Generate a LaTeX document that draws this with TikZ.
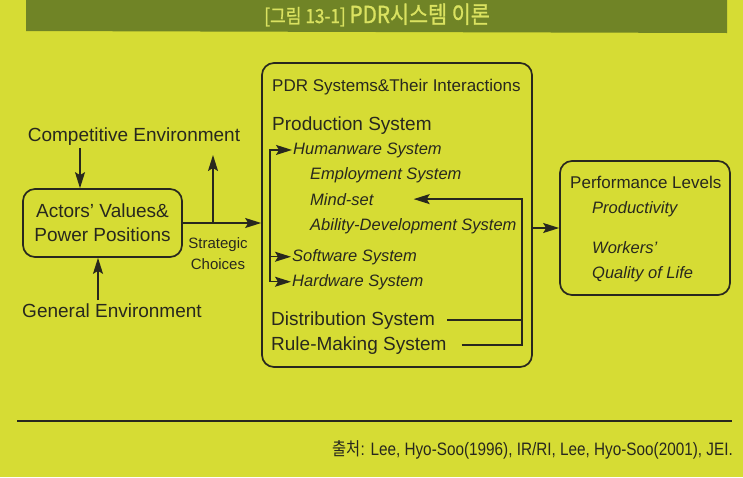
\documentclass[tikz,border=0pt]{standalone}
\usepackage{graphicx}
\usepackage{fontspec}
\setmainfont{Liberation Sans}
\newfontfamily\cjk{Noto Sans CJK KR}
\newfontfamily\cjkbanner[FakeBold=1.2]{Noto Sans CJK KR}
\usetikzlibrary{positioning, arrows.meta}
\usepackage{xcolor}

\definecolor{bgyellow}{RGB}{214,220,52}
\definecolor{bannergreen}{RGB}{112,132,38}
\definecolor{bannertext}{RGB}{218,226,96}
\definecolor{ink}{RGB}{40,40,30}

\newcommand\bigtxt{\fontsize{19pt}{24pt}\selectfont}
\newcommand\midtxt{\fontsize{17pt}{22pt}\selectfont}
\newcommand\subtxt{\fontsize{16.5pt}{20pt}\selectfont\itshape}

\tikzset{
  box/.style={draw=ink, line width=1.7pt, rounded corners=12pt},
  txt/.style={inner sep=0pt, anchor=base west, text=ink},
  arr/.style={draw=ink, line width=1.5pt, -{Stealth[length=16pt,width=10pt,inset=3pt]}},
  ln/.style={draw=ink, line width=1.5pt}
}

\begin{document}
\begin{tikzpicture}[x=1pt, y=-1pt]
    \fill[bgyellow] (0,0) rectangle (743,477);
    % 제목 띠
    \fill[bannergreen] (26,0) -- (727,0) -- (727,33) -- (26,31) -- cycle;
    \node[text=bannertext, inner sep=0pt] (fig) at (377,15)
        {\cjkbanner\scalebox{0.88}[1]{\fontsize{19.5pt}{20pt}\selectfont[그림 13-1] \fontsize{23.5pt}{26pt}\selectfont PDR시스템 이론}};

    % 왼쪽: 행위자와 환경
    \node[txt, anchor=base] (comp) at (134,141) {\bigtxt Competitive Environment};
    \node[box, text=ink, align=center, font=\bigtxt, minimum width=159pt, minimum height=68pt] (actors) at (102.5,223) {Actors’ Values\&\\Power Positions};
    \node[txt, anchor=base] (gen) at (112,317) {\bigtxt General Environment};
    \node[text=ink, align=center, inner sep=0pt, font=\fontsize{15pt}{21pt}\selectfont] (choice) at (218,254) {Strategic\\Choices};

    % 가운데: PDR 시스템
    \node[box, minimum width=270pt, minimum height=304pt] (pdr) at (397,215) {};
    \node[txt] (title) at (272,91) {\midtxt PDR Systems\&Their Interactions};
    \node[txt] (prod) at (272,130) {\bigtxt Production System};
    \node[txt] (human) at (293,154) {\subtxt Humanware System};
    \node[txt] (employ) at (310,179) {\subtxt Employment System};
    \node[txt] (mind) at (310,205) {\subtxt Mind-set};
    \node[txt] (ability) at (310,230) {\subtxt Ability-Development System};
    \node[txt] (soft) at (292,261) {\subtxt Software System};
    \node[txt] (hard) at (292,286) {\subtxt Hardware System};
    \node[txt] (dist) at (271,325) {\bigtxt Distribution System};
    \node[txt] (rule) at (271,350) {\bigtxt Rule-Making System};

    % 오른쪽: 성과
    \node[box, minimum width=170pt, minimum height=134pt] (perf) at (645,228) {};
    \node[txt] (levels) at (570,188) {\midtxt Performance Levels};
    \node[txt] (productivity) at (592,213) {\subtxt Productivity};
    \node[txt] (workers) at (592,253) {\subtxt Workers’};
    \node[txt] (quality) at (592,278) {\subtxt Quality of Life};

    % 화살표
    \coordinate (c1) at (80,148);
    \coordinate (g1) at (98,300);
    \draw[arr] (c1) -- (c1 |- actors.north);
    \draw[arr] (g1) -- (g1 |- actors.south);
    \draw[arr] (actors.east) -- (actors.east -| pdr.west);
    \coordinate (branch) at (213,0);
    \coordinate (up) at (213,155);
    \draw[arr] (actors.east -| branch) -- (up);

    \coordinate (lb) at (270,0);
    \draw[arr, shorten >=1pt] (hard.west -| lb) -- (hard.west);
    \draw[arr, shorten >=1pt] (soft.west -| lb) -- (soft.west);
    \draw[arr, shorten >=1pt] (hard.west -| lb) -- (human.west -| lb) -- (human.west);

    \coordinate (rb) at (522,0);
    \draw[ln] ([xshift=12pt]dist.east) -- (dist.east -| rb);
    \draw[arr] ([xshift=15pt]rule.east) -- (rule.east -| rb) -- (mind.east -| rb) -- ([xshift=40pt]mind.east);

    \draw[arr] (pdr.east |- perf.west) -- (perf.west);

    % 출처
    \draw[ink, line width=1.2pt] (17,421) -- (732,421);
    \node[txt, anchor=base east] (src) at (733,455)
        {\scalebox{0.85}[1]{\fontsize{18pt}{20pt}\selectfont{\cjk 출처}: Lee, Hyo-Soo(1996), IR/RI, Lee, Hyo-Soo(2001), JEI.}};
\end{tikzpicture}
\end{document}
